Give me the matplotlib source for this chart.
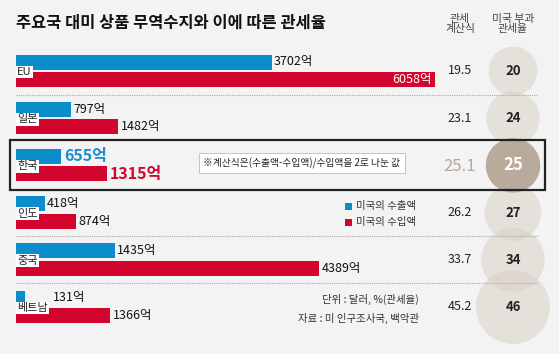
import numpy as np
import matplotlib
matplotlib.use('Agg')
import matplotlib.pyplot as plt
from matplotlib.patches import Circle, Rectangle

plt.rcParams['font.family'] = ['Noto Sans CJK KR', 'DejaVu Sans']

countries = ['EU', '일본', '한국', '인도', '중국', '베트남']
exports = [3702, 797, 655, 418, 1435, 131]      # 미국의 수출액 (억 달러)
imports = [6058, 1482, 1315, 874, 4389, 1366]   # 미국의 수입액 (억 달러)
calc = ['19.5', '23.1', '25.1', '26.2', '33.7', '45.2']
tariff = [20, 24, 25, 27, 34, 46]

BLUE = '#0b8ccb'
RED = '#d2052f'
BG = '#f3f3f3'
W, H = 559, 354

fig = plt.figure(figsize=(W / 100, H / 100), dpi=100, facecolor=BG)

# background axes in pixel coordinates
bg = fig.add_axes([0, 0, 1, 1])
bg.set_xlim(0, W)
bg.set_ylim(H, 0)
bg.axis('off')

# bar axes: x in value units, y in pixels
scale = 0.06915
x0 = 16
ax = fig.add_axes([x0 / W, 0, (W - x0) / W, 1])
ax.set_xlim(0, (W - x0) / scale)
ax.set_ylim(H, 0)
ax.axis('off')
ax.patch.set_alpha(0)

rows = 71 + 47.2 * np.arange(len(countries))
korea = countries.index('한국')

# title / headers
bg.text(16, 23, '주요국 대미 상품 무역수지와 이에 따른 관세율', fontsize=11.8, fontweight='bold',
        va='center', ha='left', color='#111111')
bg.text(460, 24, '관세\n계산식', fontsize=7.8, ha='center', va='center', color='#444444', linespacing=1.1)
bg.text(513, 24, '미국 부과\n관세율', fontsize=7.8, ha='center', va='center', color='#444444', linespacing=1.1)

# circles
for i, t in enumerate(tariff):
    r = 5.45 * np.sqrt(t)
    if i == korea:
        bg.add_patch(Circle((513, rows[i]), r, facecolor='#b9ab9b', edgecolor='none', zorder=2))
        bg.text(513, rows[i], str(t), fontsize=12, fontweight='bold', color='white',
                ha='center', va='center', zorder=5)
    else:
        bg.add_patch(Circle((513, rows[i]), r, facecolor='#d8d1c6', alpha=0.55, edgecolor='none', zorder=1))
        bg.text(513, rows[i], str(t), fontsize=9.5, fontweight='bold', color='#222222',
                ha='center', va='center', zorder=5)

# calc values
for i, c in enumerate(calc):
    if i == korea:
        bg.text(460, rows[i] + 1, c, fontsize=12, color='#b5a898', ha='center', va='center')
    else:
        bg.text(460, rows[i], c, fontsize=9, color='#222222', ha='center', va='center')

# separators
for i in [0, 3, 4]:
    ym = (rows[i] + rows[i + 1]) / 2
    bg.plot([16, 538], [ym, ym], color='#aaaaaa', lw=0.8, ls=(0, (1, 1)), zorder=3)

# korea box
bg.add_patch(Rectangle((10, 140), 535, 50, fill=False, edgecolor='#222222', lw=1.6, zorder=4))

# bars
ax.barh(rows - 9, exports, height=15, left=0, color=BLUE, zorder=2)
ax.barh(rows + 8.5, imports, height=15, left=0, color=RED, zorder=2)

px = 1 / scale  # one pixel in value units
for i, name in enumerate(countries):
    ax.text(1 * px, rows[i] + 1, name, fontsize=8, color='#222222', ha='left', va='center', zorder=4,
            bbox=dict(boxstyle='square,pad=0.12', facecolor='white', edgecolor='none'))
    if i == korea:
        ax.text(exports[i] + 3 * px, rows[i] - 9, f'{exports[i]}억', fontsize=11.5, fontweight='bold',
                color='#1a8fd0', ha='left', va='center', zorder=4)
        ax.text(imports[i] + 3 * px, rows[i] + 9, f'{imports[i]}억', fontsize=11.5, fontweight='bold',
                color=RED, ha='left', va='center', zorder=4)
        continue
    bx = max(exports[i] + 2 * px, 37 * px if len(name) > 2 else 0)
    ax.text(bx, rows[i] - 9, f'{exports[i]}억', fontsize=9, color='#111111',
            ha='left', va='center', zorder=4)
    if imports[i] == max(imports):
        ax.text(imports[i] - 3 * px, rows[i] + 8.5, f'{imports[i]}억', fontsize=9, color='white',
                ha='right', va='center', zorder=4)
    else:
        ax.text(imports[i] + 2 * px, rows[i] + 8.5, f'{imports[i]}억', fontsize=9, color='#111111',
                ha='left', va='center', zorder=4)

# note box
bg.text(302, 163, '※계산식은(수출액-수입액)/수입액을 2로 나눈 값', fontsize=7, color='#222222',
        ha='center', va='center', zorder=5,
        bbox=dict(boxstyle='square,pad=0.45', facecolor='white', edgecolor='#bbbbbb', lw=0.6))

# legend
bg.add_patch(Rectangle((345, 203), 7, 7, facecolor=BLUE, edgecolor='none'))
bg.text(356, 206.5, '미국의 수출액', fontsize=7.5, color='#333333', va='center', ha='left')
bg.add_patch(Rectangle((345, 219), 7, 7, facecolor=RED, edgecolor='none'))
bg.text(356, 222.5, '미국의 수입액', fontsize=7.5, color='#333333', va='center', ha='left')

# unit / source
bg.text(419, 299, '단위 : 달러, %(관세율)', fontsize=7.5, color='#333333', ha='right', va='center')
bg.text(419, 318, '자료 : 미 인구조사국, 백악관', fontsize=7.5, color='#333333', ha='right', va='center')

fig.savefig('out.png', dpi=100, facecolor=BG)
